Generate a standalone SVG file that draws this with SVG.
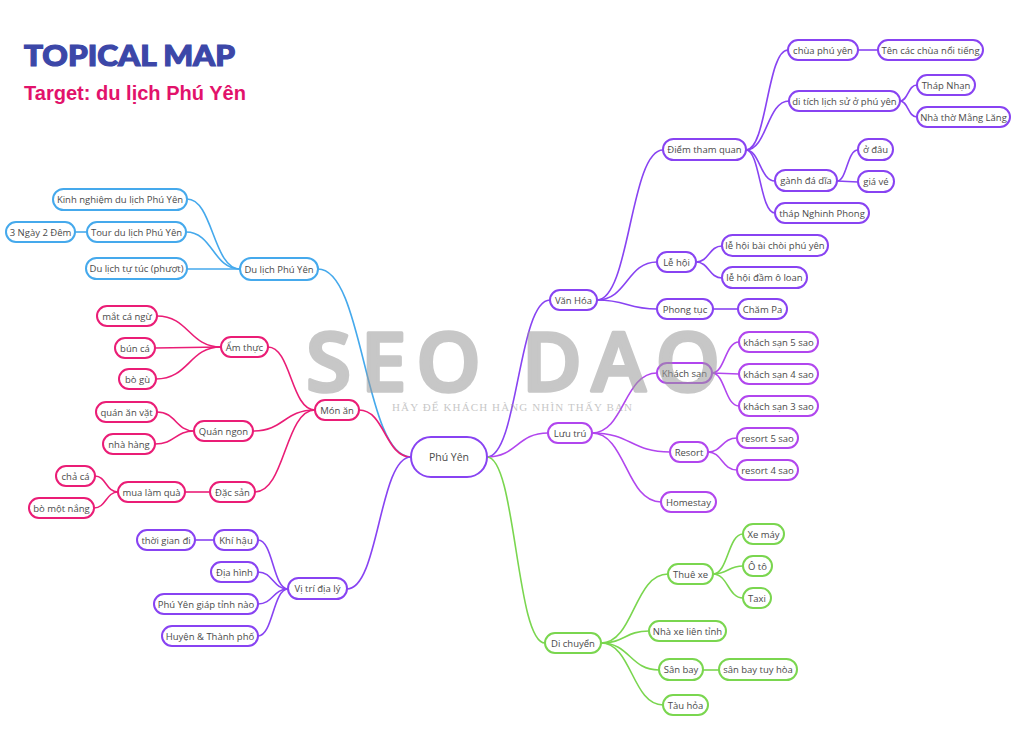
<svg xmlns="http://www.w3.org/2000/svg" width="1024" height="745" viewBox="0 0 1024 745">
<style>
.e{fill:none;stroke-width:1.6}
.eb{stroke:#45a9ec}.ep{stroke:#ea1d76}.ev{stroke:#8843f2}.em{stroke:#b146ee}.eg{stroke:#7ad64f}
rect{fill:#fff;stroke-width:2}
.b rect{stroke:#45a9ec}.p rect{stroke:#ea1d76}.v rect{stroke:#8843f2}.m rect{stroke:#b146ee}.g rect{stroke:#7ad64f}
text.t{font-family:"Open Sans","Liberation Sans",sans-serif;font-size:9.5px;fill:#4a4a4a;text-anchor:middle}
</style>
<rect x="0" y="0" width="1024" height="745" style="fill:#fff;stroke:none"/>
<text x="24" y="66" font-family="Lato,Inter,'Liberation Sans',sans-serif" font-weight="900" font-size="29" fill="#3c47a8" stroke="#3c47a8" stroke-width="1.2" textLength="211" lengthAdjust="spacingAndGlyphs">TOPICAL MAP</text>
<text x="24" y="100" font-family="'Liberation Sans',Arial,sans-serif" font-weight="bold" font-size="20" fill="#e2126b" textLength="222" lengthAdjust="spacingAndGlyphs">Target: du lịch Phú Yên</text>
<g id="connectors">
<path class="e eb" d="M411,457 C364,457 364,269 318,269"/>
<path class="e eb" d="M240,269 C213,269 213,199 187,199"/>
<path class="e eb" d="M240,269 C213,269 213,232 186,232"/>
<path class="e eb" d="M240,269 L187,269"/>
<path class="e eb" d="M87,232 L75,232"/>
<path class="e ep" d="M411,457 C385,457 385,410 359,410"/>
<path class="e ep" d="M315,410 C291,410 291,347 268,347"/>
<path class="e ep" d="M315,410 C284,410 284,431 253,431"/>
<path class="e ep" d="M315,410 C285,410 285,492 255,492"/>
<path class="e ep" d="M221,347 C189,347 189,316 157,316"/>
<path class="e ep" d="M221,347 L155,348"/>
<path class="e ep" d="M221,347 C189,347 189,379 156,379"/>
<path class="e ep" d="M194,431 C176,431 176,412 157,412"/>
<path class="e ep" d="M194,431 C175,431 175,444 155,444"/>
<path class="e ep" d="M210,492 L185,492"/>
<path class="e ep" d="M118,492 C106,492 106,476 95,476"/>
<path class="e ep" d="M118,492 C106,492 106,508 94,508"/>
<path class="e ev" d="M411,457 C379,457 379,589 347,589"/>
<path class="e ev" d="M288,589 C273,589 273,540 258,540"/>
<path class="e ev" d="M288,589 C273,589 273,572 258,572"/>
<path class="e ev" d="M288,589 C273,589 273,604 258,604"/>
<path class="e ev" d="M288,589 C273,589 273,636 258,636"/>
<path class="e ev" d="M214,540 L195,540"/>
<path class="e ev" d="M487,457 C518,457 518,300 550,300"/>
<path class="e ev" d="M597,300 C630,300 630,150 663,150"/>
<path class="e ev" d="M597,300 C627,300 627,262 657,262"/>
<path class="e ev" d="M597,300 C627,300 627,309 657,309"/>
<path class="e ev" d="M746,150 C767,150 767,50 788,50"/>
<path class="e ev" d="M746,150 C767,150 767,101 789,101"/>
<path class="e ev" d="M746,150 C760,150 760,181 775,181"/>
<path class="e ev" d="M746,150 C760,150 760,213 775,213"/>
<path class="e ev" d="M858,50 L878,50"/>
<path class="e ev" d="M900,101 C908,101 908,85 917,85"/>
<path class="e ev" d="M900,101 C908,101 908,117 917,117"/>
<path class="e ev" d="M837,181 C847,181 847,150 858,150"/>
<path class="e ev" d="M837,181 L858,182"/>
<path class="e ev" d="M696,262 C709,262 709,246 722,246"/>
<path class="e ev" d="M696,262 C709,262 709,278 722,278"/>
<path class="e ev" d="M713,309 L738,309"/>
<path class="e em" d="M487,457 C517,457 517,433 548,433"/>
<path class="e em" d="M592,433 C624,433 624,373 657,373"/>
<path class="e em" d="M592,433 C631,433 631,452 670,452"/>
<path class="e em" d="M592,433 C626,433 626,502 661,502"/>
<path class="e em" d="M712,373 C725,373 725,342 739,342"/>
<path class="e em" d="M712,373 L739,374"/>
<path class="e em" d="M712,373 C725,373 725,406 739,406"/>
<path class="e em" d="M708,452 C722,452 722,438 737,438"/>
<path class="e em" d="M708,452 C722,452 722,470 737,470"/>
<path class="e eg" d="M487,457 C516,457 516,643 545,643"/>
<path class="e eg" d="M601,643 C634,643 634,574 668,574"/>
<path class="e eg" d="M601,643 C625,643 625,631 649,631"/>
<path class="e eg" d="M601,643 C630,643 630,670 659,670"/>
<path class="e eg" d="M601,643 C632,643 632,705 663,705"/>
<path class="e eg" d="M713,574 C728,574 728,534 743,534"/>
<path class="e eg" d="M713,574 C728,574 728,566 743,566"/>
<path class="e eg" d="M713,574 C728,574 728,598 743,598"/>
<path class="e eg" d="M703,670 L719,670"/>
</g>
<g id="n-phuyen" class="v"><rect x="411" y="437" width="76" height="40" rx="20"/><text class="t" x="449" y="461" style="font-size:10.5px">Phú Yên</text></g>
<g id="n-dulich" class="b"><rect x="240" y="258" width="78" height="22" rx="11"/><text class="t" x="279" y="272.5">Du lịch Phú Yên</text></g>
<g id="n-kinhnghiem" class="b"><rect x="53" y="189" width="134" height="21" rx="10.5"/><text class="t" x="120" y="202.5">Kinh nghiệm du lịch Phú Yên</text></g>
<g id="n-tour" class="b"><rect x="87" y="222" width="99" height="20" rx="10"/><text class="t" x="136.5" y="235.5">Tour du lịch Phú Yên</text></g>
<g id="n-3ngay" class="b"><rect x="6" y="222" width="69" height="20" rx="10"/><text class="t" x="40.5" y="235.5">3 Ngày 2 Đêm</text></g>
<g id="n-tutuc" class="b"><rect x="86" y="258" width="101" height="21" rx="10.5"/><text class="t" x="136.5" y="271.5">Du lịch tự túc (phượt)</text></g>
<g id="n-monan" class="p"><rect x="315" y="400" width="44" height="20" rx="10"/><text class="t" x="337" y="413.5">Món ăn</text></g>
<g id="n-amthuc" class="p"><rect x="221" y="337" width="47" height="20" rx="10"/><text class="t" x="244.5" y="350.5">Ẩm thực</text></g>
<g id="n-matcangu" class="p"><rect x="97" y="306" width="60" height="20" rx="10"/><text class="t" x="127" y="319.5">mắt cá ngừ</text></g>
<g id="n-bunca" class="p"><rect x="115" y="338" width="40" height="20" rx="10"/><text class="t" x="135" y="351.5">bún cá</text></g>
<g id="n-bogu" class="p"><rect x="119" y="369" width="37" height="20" rx="10"/><text class="t" x="137.5" y="382.5">bò gù</text></g>
<g id="n-quanngon" class="p"><rect x="194" y="421" width="59" height="20" rx="10"/><text class="t" x="223.5" y="434.5">Quán ngon</text></g>
<g id="n-quananvat" class="p"><rect x="96" y="402" width="61" height="20" rx="10"/><text class="t" x="126.5" y="415.5">quán ăn vặt</text></g>
<g id="n-nhahang" class="p"><rect x="103" y="434" width="52" height="20" rx="10"/><text class="t" x="129" y="447.5">nhà hàng</text></g>
<g id="n-dacsan" class="p"><rect x="210" y="482" width="45" height="20" rx="10"/><text class="t" x="232.5" y="495.5">Đặc sản</text></g>
<g id="n-mualamqua" class="p"><rect x="118" y="482" width="67" height="20" rx="10"/><text class="t" x="151.5" y="495.5">mua làm quà</text></g>
<g id="n-chaca" class="p"><rect x="56" y="466" width="39" height="20" rx="10"/><text class="t" x="75.5" y="479.5">chả cá</text></g>
<g id="n-bomotnang" class="p"><rect x="29" y="498" width="65" height="20" rx="10"/><text class="t" x="61.5" y="511.5">bò một nắng</text></g>
<g id="n-vitri" class="v"><rect x="288" y="578" width="59" height="21" rx="10.5"/><text class="t" x="317.5" y="591.5">Vị trí địa lý</text></g>
<g id="n-khihau" class="v"><rect x="214" y="530" width="44" height="20" rx="10"/><text class="t" x="236" y="543.5">Khí hậu</text></g>
<g id="n-thoigian" class="v"><rect x="137" y="530" width="58" height="20" rx="10"/><text class="t" x="166" y="543.5">thời gian đi</text></g>
<g id="n-diahinh" class="v"><rect x="211" y="562" width="47" height="20" rx="10"/><text class="t" x="234.5" y="575.5">Địa hình</text></g>
<g id="n-giap" class="v"><rect x="154" y="594" width="104" height="20" rx="10"/><text class="t" x="206" y="607.5">Phú Yên giáp tỉnh nào</text></g>
<g id="n-huyen" class="v"><rect x="162" y="626" width="96" height="20" rx="10"/><text class="t" x="210" y="639.5">Huyện &amp; Thành phố</text></g>
<g id="n-vanhoa" class="v"><rect x="550" y="290" width="47" height="20" rx="10"/><text class="t" x="573.5" y="303.5">Văn Hóa</text></g>
<g id="n-diemthamquan" class="v"><rect x="663" y="139" width="83" height="21" rx="10.5"/><text class="t" x="704.5" y="152.5">Điểm tham quan</text></g>
<g id="n-chua" class="v"><rect x="788" y="40" width="70" height="20" rx="10"/><text class="t" x="823" y="53.5">chùa phú yên</text></g>
<g id="n-tenchua" class="v"><rect x="878" y="40" width="105" height="20" rx="10"/><text class="t" x="930.5" y="53.5">Tên các chùa nổi tiếng</text></g>
<g id="n-ditich" class="v"><rect x="789" y="91" width="111" height="20" rx="10"/><text class="t" x="844.5" y="104.5">di tích lịch sử ở phú yên</text></g>
<g id="n-thapnhan" class="v"><rect x="917" y="75" width="58" height="20" rx="10"/><text class="t" x="946" y="88.5">Tháp Nhạn</text></g>
<g id="n-nhatho" class="v"><rect x="917" y="107" width="93" height="20" rx="10"/><text class="t" x="963.5" y="120.5">Nhà thờ Mằng Lăng</text></g>
<g id="n-ganh" class="v"><rect x="775" y="170" width="62" height="21" rx="10.5"/><text class="t" x="806" y="183.5">gành đá dĩa</text></g>
<g id="n-odau" class="v"><rect x="858" y="139" width="35" height="21" rx="10.5"/><text class="t" x="875.5" y="152.5">ở đâu</text></g>
<g id="n-giave" class="v"><rect x="858" y="171" width="36" height="21" rx="10.5"/><text class="t" x="876" y="184.5">giá vé</text></g>
<g id="n-thapnp" class="v"><rect x="775" y="203" width="94" height="20" rx="10"/><text class="t" x="822" y="216.5">tháp Nghinh Phong</text></g>
<g id="n-lehoi" class="v"><rect x="657" y="252" width="39" height="20" rx="10"/><text class="t" x="676.5" y="265.5">Lễ hội</text></g>
<g id="n-baichoi" class="v"><rect x="722" y="235" width="106" height="21" rx="10.5"/><text class="t" x="775" y="248.5">lễ hội bài chòi phú yên</text></g>
<g id="n-damoloan" class="v"><rect x="722" y="267" width="85" height="21" rx="10.5"/><text class="t" x="764.5" y="280.5">lễ hội đầm ô loan</text></g>
<g id="n-phongtuc" class="v"><rect x="657" y="299" width="56" height="20" rx="10"/><text class="t" x="685" y="312.5">Phong tục</text></g>
<g id="n-champa" class="v"><rect x="738" y="299" width="49" height="20" rx="10"/><text class="t" x="762.5" y="312.5">Chăm Pa</text></g>
<g id="n-luutru" class="m"><rect x="548" y="423" width="44" height="20" rx="10"/><text class="t" x="570" y="436.5">Lưu trú</text></g>
<g id="n-khachsan" class="m"><rect x="657" y="363" width="55" height="20" rx="10"/><text class="t" x="684.5" y="376.5">Khách sạn</text></g>
<g id="n-ks5" class="m"><rect x="739" y="332" width="79" height="20" rx="10"/><text class="t" x="778.5" y="345.5">khách sạn 5 sao</text></g>
<g id="n-ks4" class="m"><rect x="739" y="364" width="79" height="20" rx="10"/><text class="t" x="778.5" y="377.5">khách sạn 4 sao</text></g>
<g id="n-ks3" class="m"><rect x="739" y="396" width="79" height="20" rx="10"/><text class="t" x="778.5" y="409.5">khách sạn 3 sao</text></g>
<g id="n-resort" class="m"><rect x="670" y="442" width="38" height="20" rx="10"/><text class="t" x="689" y="455.5">Resort</text></g>
<g id="n-rs5" class="m"><rect x="737" y="428" width="61" height="20" rx="10"/><text class="t" x="767.5" y="441.5">resort 5 sao</text></g>
<g id="n-rs4" class="m"><rect x="737" y="460" width="61" height="20" rx="10"/><text class="t" x="767.5" y="473.5">resort 4 sao</text></g>
<g id="n-homestay" class="m"><rect x="661" y="492" width="55" height="20" rx="10"/><text class="t" x="688.5" y="505.5">Homestay</text></g>
<g id="n-dichuyen" class="g"><rect x="545" y="633" width="56" height="20" rx="10"/><text class="t" x="573" y="646.5">Di chuyển</text></g>
<g id="n-thuexe" class="g"><rect x="668" y="564" width="45" height="20" rx="10"/><text class="t" x="690.5" y="577.5">Thuê xe</text></g>
<g id="n-xemay" class="g"><rect x="743" y="524" width="41" height="20" rx="10"/><text class="t" x="763.5" y="537.5">Xe máy</text></g>
<g id="n-oto" class="g"><rect x="743" y="556" width="29" height="20" rx="10"/><text class="t" x="757.5" y="569.5">Ô tô</text></g>
<g id="n-taxi" class="g"><rect x="743" y="588" width="28" height="20" rx="10"/><text class="t" x="757" y="601.5">Taxi</text></g>
<g id="n-nhaxe" class="g"><rect x="649" y="621" width="77" height="20" rx="10"/><text class="t" x="687.5" y="634.5">Nhà xe liên tỉnh</text></g>
<g id="n-sanbay" class="g"><rect x="659" y="659" width="44" height="21" rx="10.5"/><text class="t" x="681" y="672.5">Sân bay</text></g>
<g id="n-sbth" class="g"><rect x="719" y="659" width="78" height="21" rx="10.5"/><text class="t" x="758" y="672.5">sân bay tuy hòa</text></g>
<g id="n-tauhoa" class="g"><rect x="663" y="695" width="45" height="20" rx="10"/><text class="t" x="685.5" y="708.5">Tàu hỏa</text></g>
<g id="watermark" opacity="0.55">
<text x="306" y="391" font-family="'Open Sans','Liberation Sans',sans-serif" font-weight="600" font-size="82" fill="#9a9a9a" stroke="#9a9a9a" stroke-width="3.5" stroke-linejoin="round" textLength="414" lengthAdjust="spacing">SEO DAO</text>
<text x="392" y="411" font-family="'Liberation Serif',serif" font-size="11" fill="#9a9a9a" textLength="240" lengthAdjust="spacing">HÃY ĐỂ KHÁCH HÀNG NHÌN THẤY BẠN</text>
</g>
</svg>
